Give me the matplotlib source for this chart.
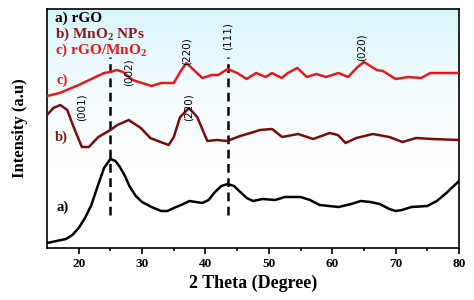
import matplotlib
matplotlib.use("Agg")
import matplotlib.pyplot as plt
import numpy as np
from matplotlib.colors import LinearSegmentedColormap

plt.rcParams["mathtext.fontset"] = "custom"
plt.rcParams["mathtext.bf"] = "Liberation Serif:bold"
plt.rcParams["mathtext.rm"] = "Liberation Serif"

# 2 theta (degree) / relative intensity
theta_a = [15, 16.5, 18, 19, 20, 21, 22, 23, 24, 25, 25.8, 26.5, 27.3, 28, 29, 30, 31.5, 33, 34, 35,
           36.5, 37.5, 38.5, 39.5, 40.5, 41.5, 42.5, 43.5, 44.5, 45.5, 46.5, 47.5, 49, 51, 52.5,
           55, 56.5, 58, 61, 63, 64.5, 66, 67.5, 69, 70, 71, 72.5, 75, 76.5, 78, 80]
rgo = [5, 7, 9, 13, 20, 30, 43, 62, 80, 89, 87, 81, 72, 62, 52, 46, 41, 37, 37, 40,
       44, 47, 46, 45, 48, 56, 62, 64, 62, 56, 50, 47, 49, 48, 51,
       51, 48, 43, 41, 44, 47, 46, 44, 39, 37, 38, 41, 42, 47, 55, 67]

theta_b = [15, 16, 17.1, 18.2, 19.2, 20.5, 21.6, 23.1, 25, 26.1, 27.9, 29.8, 31.3, 32.9, 34.2, 35, 36,
           37.4, 38.7, 40.3, 41.8, 43.4, 45.5, 47.1, 48.6, 50.5, 52.1, 54.6, 57, 59.6, 60.9,
           62.1, 63.8, 66.4, 69, 71.1, 73.2, 75.8, 80]
mno2 = [133, 140, 143, 138, 121, 101, 101, 111, 118, 123, 128, 120, 110, 106, 103, 111, 131,
        140, 131, 107, 108, 107, 112, 115, 118, 119, 111, 114, 109, 115, 113,
        105, 110, 114, 111, 106, 110, 109, 108]

theta_c = [15, 17, 20, 22, 24, 25, 26, 27, 28.5, 30, 31.5, 33, 35, 36.2, 37, 38, 39.5, 41, 42, 43.5,
           45, 46.5, 48, 49.5, 50.5, 52, 53, 54.5, 56, 57.5, 59, 61, 62.5, 64, 65, 66, 67, 68, 70,
           72, 74, 75.5, 78, 80]
composite = [152, 155, 163, 169, 175, 176, 178, 176, 168, 165, 162, 165, 165, 178, 185, 179, 170, 173, 173, 179,
             175, 169, 175, 171, 175, 170, 175, 180, 171, 174, 171, 175, 171, 181, 186, 182, 178, 177, 169,
             171, 170, 175, 175, 175]

dashed_x = [25, 43.5]
peak_labels = ["(002)", "(220)", "(001)", "(220)", "(111)", "(020)"]
peak_x = [27.8, 37.0, 20.4, 37.3, 43.5, 64.7]
peak_y = [176, 197, 141, 141, 212, 201]

fig = plt.figure(figsize=(4.74, 3.0), dpi=100)
ax = fig.add_axes([47 / 474, 52 / 300, 412 / 474, 239 / 300])

grad = LinearSegmentedColormap.from_list("bg", ["#ffffff", "#ffffff", "#f4fcfe", "#d8f5fa"])
ax.imshow(np.linspace(0, 1, 200).reshape(-1, 1), cmap=grad, origin="lower", aspect="auto",
          extent=[15, 80, 0, 239], zorder=0)

ax.plot(theta_a, rgo, color="black", lw=1.8, zorder=3)
ax.plot(theta_b, mno2, color="#7a0c0c", lw=1.8, zorder=3)
ax.plot(theta_c, composite, color="#e8181a", lw=1.8, zorder=3)

for xv in dashed_x:
    ax.plot([xv, xv], [33, 191], color="black", lw=1.8, ls=(0, (3.5, 2.2)), zorder=2)

for lab, xv, yv in zip(peak_labels, peak_x, peak_y):
    ax.text(xv, yv, lab, rotation=90, ha="center", va="center", fontsize=7.5,
            family="DejaVu Sans", zorder=4)

serif = "Liberation Serif"
ax.text(16.2, 230, "a) rGO", color="black", fontsize=11, fontweight="bold", family=serif, va="center")
ax.text(16.2, 214, "b) MnO$_\\mathbf{2}$ NPs", color="#8b1a1a", fontsize=11, fontweight="bold",
        family=serif, va="center")
ax.text(16.2, 198, "c) rGO/MnO$_\\mathbf{2}$", color="#e8181a", fontsize=11, fontweight="bold",
        family=serif, va="center")
ax.text(16.5, 168, "c)", color="#e8181a", fontsize=10.5, fontweight="bold", family=serif, va="center")
ax.text(16.3, 111, "b)", color="#8b1a1a", fontsize=10.5, fontweight="bold", family=serif, va="center")
ax.text(16.5, 41, "a)", color="black", fontsize=10.5, fontweight="bold", family=serif, va="center")

ax.set_xlim(15, 80)
ax.set_ylim(0, 239)
ax.set_yticks([])
ax.set_xticks([20, 30, 40, 50, 60, 70, 80])
ax.set_xticks([25, 35, 45, 55, 65, 75], minor=True)
ax.tick_params(axis="x", which="major", length=4, width=1.2, direction="out")
ax.tick_params(axis="x", which="minor", length=2.5, width=1.2, direction="out")
for t in ax.get_xticklabels():
    t.set_fontfamily(serif)
    t.set_fontweight("bold")
    t.set_fontsize(9.5)
for s in ax.spines.values():
    s.set_linewidth(1.2)

ax.set_xlabel("2 Theta (Degree)", fontsize=13, fontweight="bold", family=serif, labelpad=3)
ax.set_ylabel("Intensity (a.u)", fontsize=12, fontweight="bold", family=serif, labelpad=14)

fig.savefig("out.png", dpi=100)
